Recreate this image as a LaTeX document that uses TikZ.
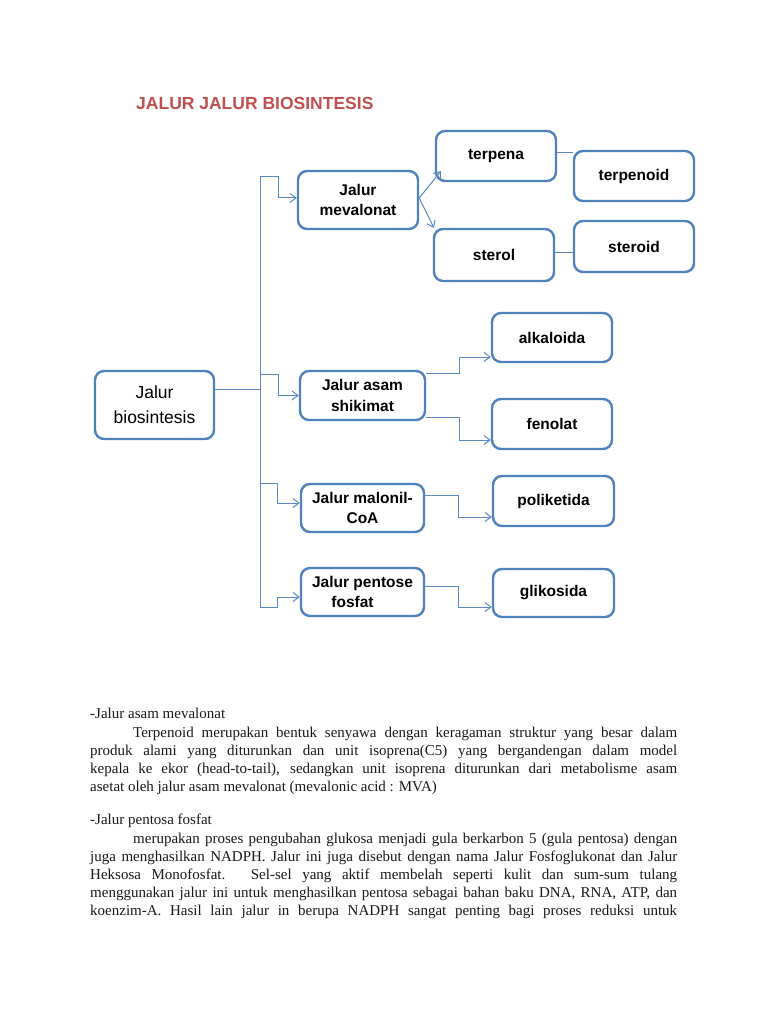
\documentclass[tikz,border=0pt]{standalone}
\usepackage{fontspec}
\setmainfont{Liberation Serif}
\setsansfont{Liberation Sans}
\usetikzlibrary{arrows.meta}
\definecolor{boxblue}{HTML}{4F81BD}
\definecolor{linkblue}{HTML}{5A89C4}
\definecolor{titlered}{HTML}{C0504D}
\begin{document}
\begin{tikzpicture}[x=1pt,y=-1pt,
 pbox/.style={draw=boxblue, line width=2.4pt, rounded corners=9pt, fill=white, inner sep=0pt, align=center, font=\sffamily\bfseries\fontsize{15.5}{20.5}\selectfont},
 link/.style={draw=linkblue, line width=1pt},
 arr/.style={link, -{Straight Barb[length=6pt,width=9pt]}},
 body/.style={anchor=base west, inner sep=0pt, font=\fontsize{15}{18}\selectfont, text=black!90}
]
\useasboundingbox[fill=white] (0,0) rectangle (768,1024);

\node[anchor=base west, inner sep=0pt, font=\sffamily\bfseries\fontsize{17.5}{20}\selectfont, text=titlered] (title) at (136,109.5) {JALUR JALUR BIOSINTESIS};

% boxes
\node[pbox, font=\sffamily\fontsize{17.5}{25}\selectfont, minimum width=119pt, minimum height=68pt] (bio) at (154.5,405) {Jalur\\biosintesis};
\node[pbox, minimum width=120pt, minimum height=58pt] (mev) at (358,200) {Jalur\\mevalonat};
\node[pbox, minimum width=120pt, minimum height=50pt] (terp) at (496,156) {terpena};
\node[pbox, minimum width=120pt, minimum height=50pt] (tpd) at (634,176) {terpenoid};
\node[pbox, minimum width=120pt, minimum height=52pt] (ster) at (494,255) {sterol};
\node[pbox, minimum width=120pt, minimum height=51pt] (std) at (634,246.5) {steroid};
\node[pbox, minimum width=120pt, minimum height=49pt] (alk) at (552,337.5) {alkaloida};
\node[pbox, minimum width=125pt, minimum height=49pt] (shik) at (362.5,395.5) {Jalur asam\\shikimat};
\node[pbox, minimum width=120pt, minimum height=50pt] (fen) at (552,424) {fenolat};
\node[pbox, minimum width=123pt, minimum height=48pt] (mal) at (362.5,508) {Jalur malonil-\\CoA};
\node[pbox, minimum width=121pt, minimum height=50pt] (pol) at (553.5,501) {poliketida};
\node[pbox, minimum width=123pt, minimum height=48pt] (pent) at (362.5,592) {Jalur pentose\\\hspace*{-20pt}fosfat};
\node[pbox, minimum width=121pt, minimum height=48pt] (gli) at (553.5,593) {glikosida};

% trunk
\coordinate (trunkTop) at (260,177);
\coordinate (trunkBot) at (260,607);
\coordinate (jB) at (260,389);
\coordinate (jS) at (260,374);
\coordinate (jM) at (260,483);
\coordinate (tipT) at (441,171);
\coordinate (tipS) at (434,228);

\draw[link] (bio.east |- jB) -- (jB);
\draw[link] (trunkTop) -- (trunkBot);
\draw[arr] (trunkTop) -- ++(18,0) |- ([yshift=2pt]mev.west);
\draw[arr] (jS) -- ++(18,0) |- (shik.west);
\draw[arr] (jM) -- ++(17,0) |- ([yshift=5pt]mal.west);
\draw[arr] (trunkBot) -- ++(17,0) |- ([yshift=-5pt]pent.west);

\draw[arr] ([yshift=2pt]mev.east) -- (tipT);
\draw[arr] ([yshift=2pt]mev.east) -- (tipS);
\draw[link] ([yshift=3pt]terp.east) -- ([yshift=3pt]terp.east -| tpd.west);
\draw[link] ([yshift=3pt]ster.east) -- ([yshift=3pt]ster.east -| std.west);

\draw[arr] ([yshift=22pt]shik.east) -- ++(33,0) |- ([yshift=-19.5pt]alk.west);
\draw[arr] ([yshift=-22pt]shik.east) -- ++(33,0) |- ([yshift=-16pt]fen.west);
\draw[arr] ([yshift=13pt]mal.east) -- ++(33,0) |- ([yshift=-16pt]pol.west);
\draw[arr] ([yshift=6pt]pent.east) -- ++(33,0) |- ([yshift=-14pt]gli.west);

% body text
\node[body] (a1) at (90,718) {-Jalur asam mevalonat};
\node[body] (a2) at (133,737) {\makebox[544pt][s]{Terpenoid merupakan bentuk senyawa dengan keragaman struktur yang besar dalam}};
\node[body] (a3) at (90,755) {\makebox[587pt][s]{produk alami yang diturunkan dan unit isoprena(C5) yang bergandengan dalam model}};
\node[body] (a4) at (90,773) {\makebox[587pt][s]{kepala ke ekor (head-to-tail), sedangkan unit isoprena diturunkan dari metabolisme asam}};
\node[body] (a5) at (90,791) {asetat oleh jalur asam mevalonat (mevalonic acid : MVA)};

\node[body] (b1) at (90,824) {-Jalur pentosa fosfat};
\node[body] (b2) at (133,843) {\makebox[544pt][s]{merupakan proses pengubahan glukosa menjadi gula berkarbon 5 (gula pentosa) dengan}};
\node[body] (b3) at (90,861) {\makebox[587pt][s]{juga menghasilkan NADPH. Jalur ini juga disebut dengan nama Jalur Fosfoglukonat dan Jalur}};
\node[body] (b4) at (90,879) {\makebox[587pt][s]{Heksosa Monofosfat. Sel-sel yang aktif membelah seperti kulit dan sum-sum tulang}};
\node[body] (b5) at (90,897) {\makebox[587pt][s]{menggunakan jalur ini untuk menghasilkan pentosa sebagai bahan baku DNA, RNA, ATP, dan}};
\node[body] (b6) at (90,915) {\makebox[587pt][s]{koenzim-A. Hasil lain jalur in berupa NADPH sangat penting bagi proses reduksi untuk}};
\end{tikzpicture}
\end{document}
